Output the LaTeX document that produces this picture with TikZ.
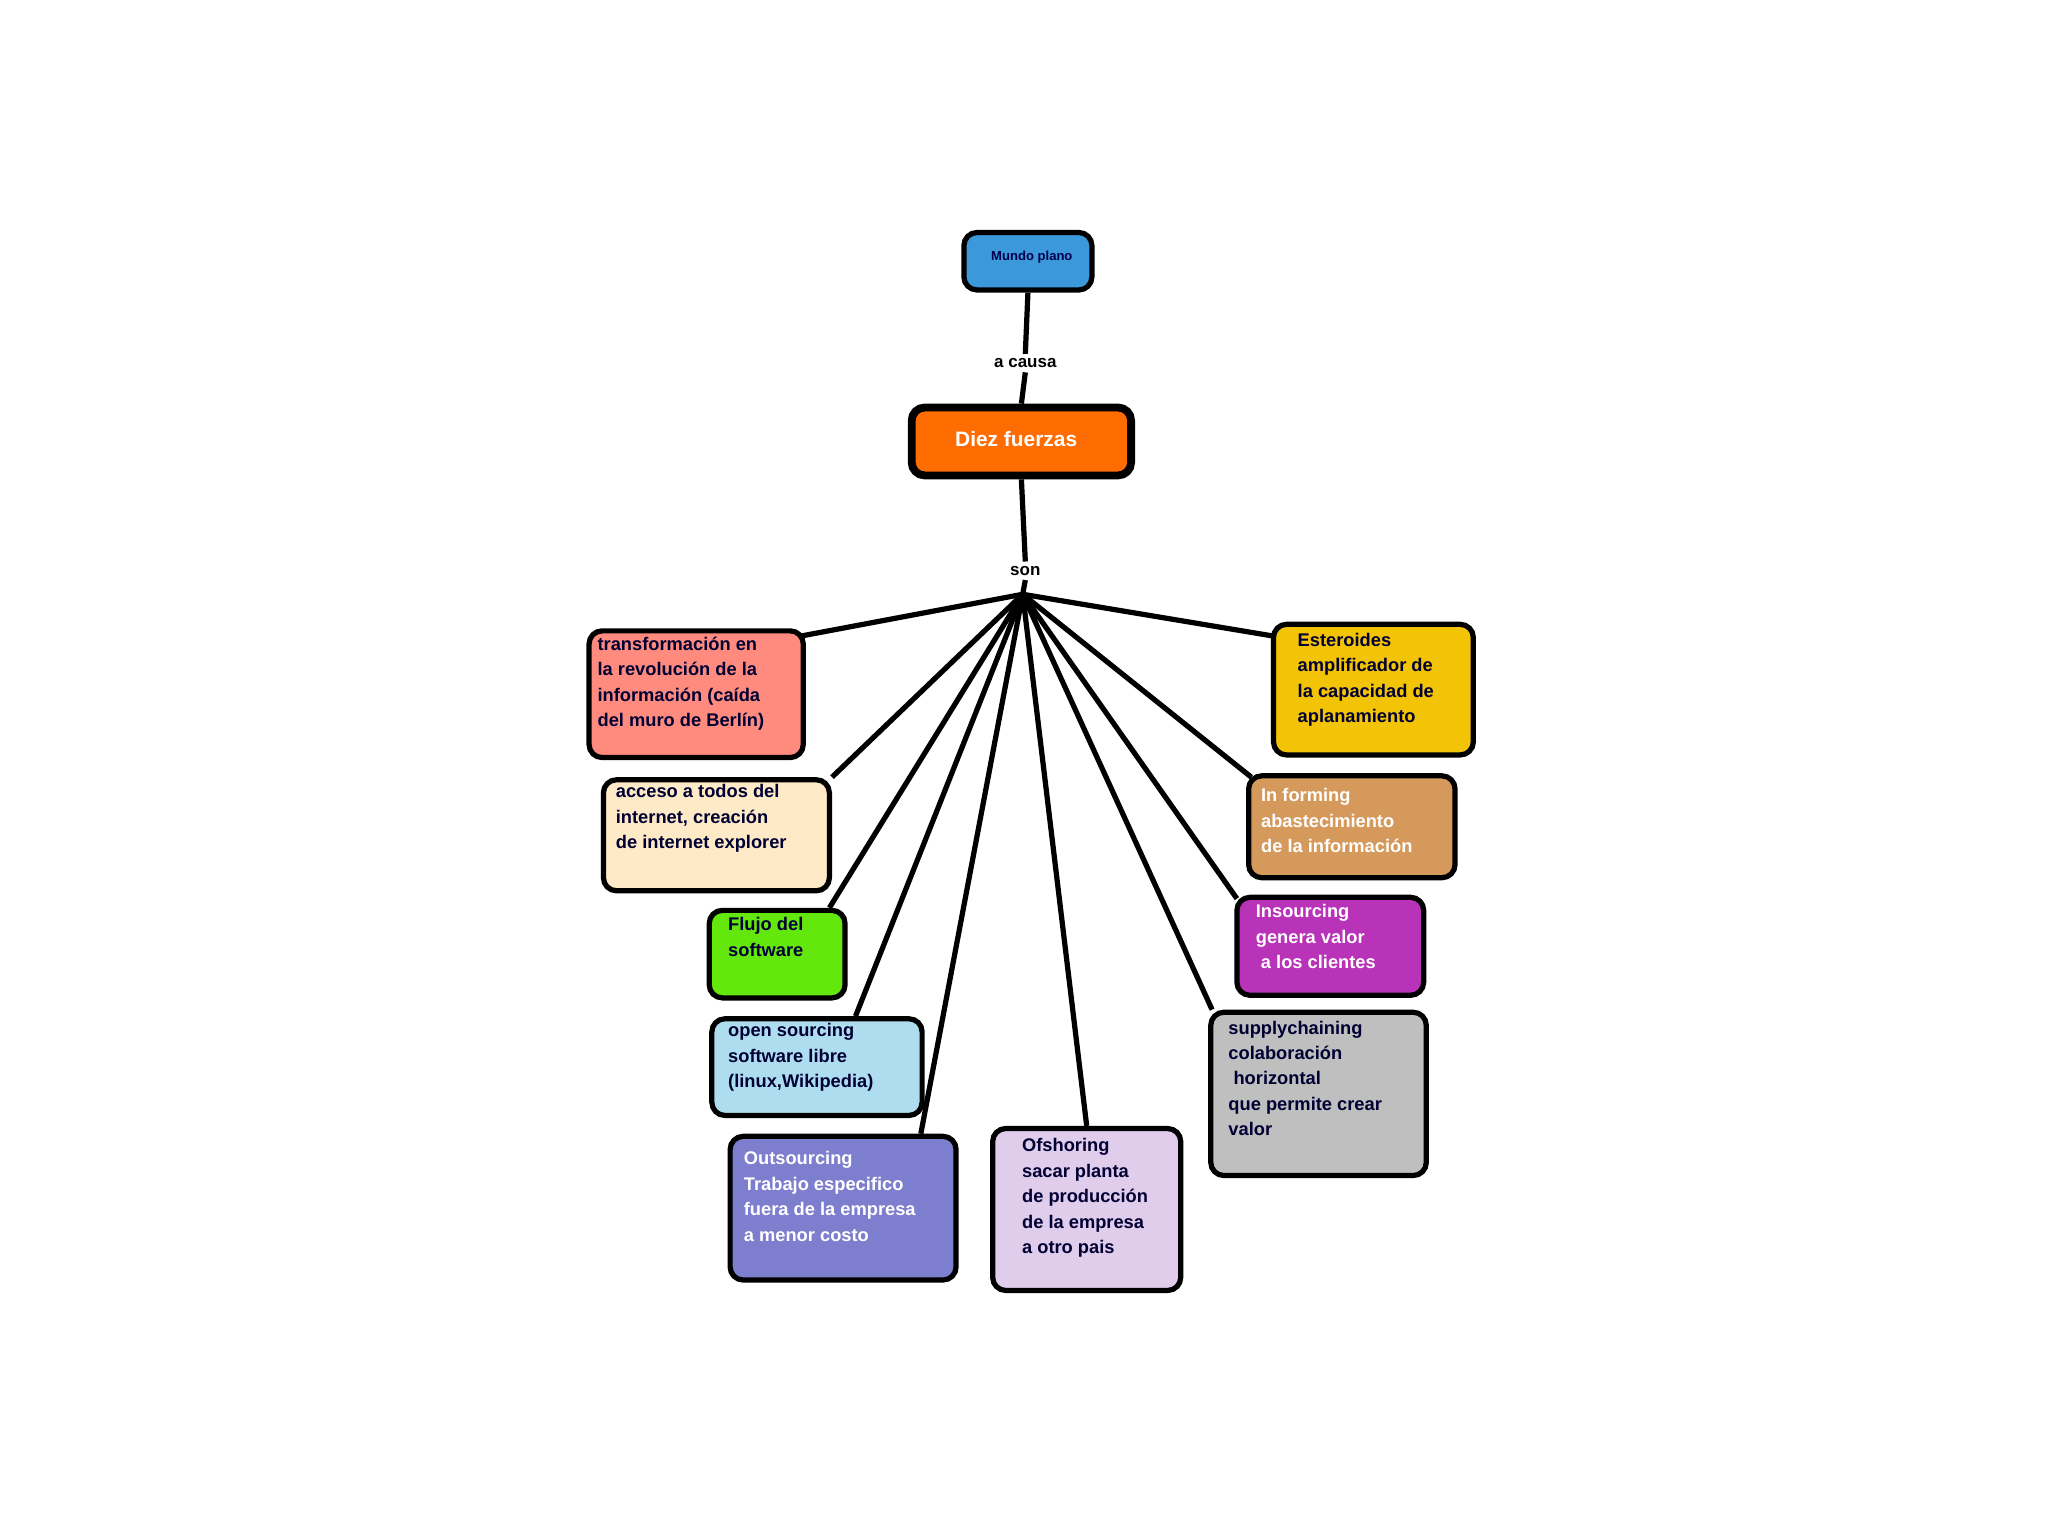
\documentclass[tikz,border=0pt]{standalone}
\usepackage{fontspec}
\setmainfont{Liberation Sans}
\begin{document}
\begin{tikzpicture}[x=1pt,y=-1pt,
  box/.style={draw=black,line width=4pt,rounded corners=10pt,inner sep=0pt},
  txt/.style={align=left,anchor=north west,font=\bfseries\fontsize{14}{19.5}\selectfont,text=black!80!blue},
  wtxt/.style={txt,text=white},
  con/.style={line width=4pt}]
\useasboundingbox (0,0) rectangle (1568,1176);
% top
\node[box,fill=cyan!70!blue!80,minimum width=98pt,minimum height=44pt] (mp) at (787,200) {};
\node[font=\bfseries\fontsize{10}{12}\selectfont,text=black!70!blue] (mpt) at (790,197) {Mundo plano};
\node[font=\bfseries\fontsize{13}{15}\selectfont] (ac) at (785,278) {a causa};
\node[box,line width=6pt,fill=orange!85!red,minimum width=168pt,minimum height=52pt] (df) at (782,338) {};
\node[font=\bfseries\fontsize{16}{18}\selectfont,text=white] (dft) at (778,336) {Diez fuerzas};
\node[font=\bfseries\fontsize{13}{15}\selectfont] (son) at (785,437) {son};
\coordinate (hub) at (783,455);
\draw[con] (mp.south) -- (ac.north);
\draw[con] (ac.south) -- (df.north);
\draw[con] (df.south) -- (son.north);
% boxes
\def\bx#1#2#3#4#5#6{\node[box,fill=#6,minimum width=#3-#1,minimum height=#4-#2,anchor=north west] (#5) at (#1,#2) {};}
\bx{449}{481}{613}{578}{b1}{red!45!white!90!orange}
\bx{460}{595}{633}{680}{b2}{yellow!25!orange!20!white}
\bx{541}{695}{645}{762}{b3}{green!60!yellow!90!black!95}
\bx{543}{778}{704}{852}{b4}{cyan!30!white!95!black}
\bx{557}{868}{730}{978}{b5}{blue!45!gray!70!white}
\bx{758}{862}{902}{986}{b6}{blue!20!violet!20!white}
\bx{925}{773}{1090}{898}{b7}{black!25}
\bx{945}{685}{1088}{760}{b8}{violet!70!magenta!80!white}
\bx{954}{592}{1112}{670}{b9}{brown!80!orange!80!white}
\bx{973}{476}{1126}{576}{b10}{orange!40!yellow!95!black!98}
\node[txt] (t1) at (454,484) {transformación en\\la revolución de la\\información (caída\\del muro de Berlín)};
\node[txt] (t2) at (468,597) {acceso a todos del\\internet, creación\\de internet explorer};
\node[txt] (t3) at (554,699) {Flujo del\\software};
\node[txt] (t4) at (554,780) {open sourcing\\software libre\\(linux,Wikipedia)};
\node[wtxt] (t5) at (566,878) {Outsourcing\\Trabajo especifico\\fuera de la empresa\\a menor costo};
\node[txt] (t6) at (779,868) {Ofshoring\\sacar planta\\de producción\\de la empresa\\a otro pais};
\node[txt] (t7) at (937,778) {supplychaining\\colaboración\\\ horizontal\\que permite crear\\valor};
\node[wtxt] (t8) at (958,689) {Insourcing\\genera valor\\\ a los clientes};
\node[wtxt] (t9) at (962,600) {In forming\\abastecimiento\\de la información};
\node[txt] (t10) at (990,481) {Esteroides\\amplificador de\\la capacidad de\\aplanamiento};
\draw[con] (hub) -- (613,487) coordinate (e1);
\draw[con] (hub) -- (b2.north east);
\draw[con] (hub) -- (635,695);
\draw[con] (hub) -- (655,778);
\draw[con] (hub) -- (705,868);
\draw[con] (hub) -- (832,862);
\draw[con] (hub) -- (928,773);
\draw[con] (hub) -- (947,688);
\draw[con] (hub) -- (958,595);
\draw[con] (hub) -- (975,487);
\draw[con] (son.south) -- (hub);
\end{tikzpicture}
\end{document}
